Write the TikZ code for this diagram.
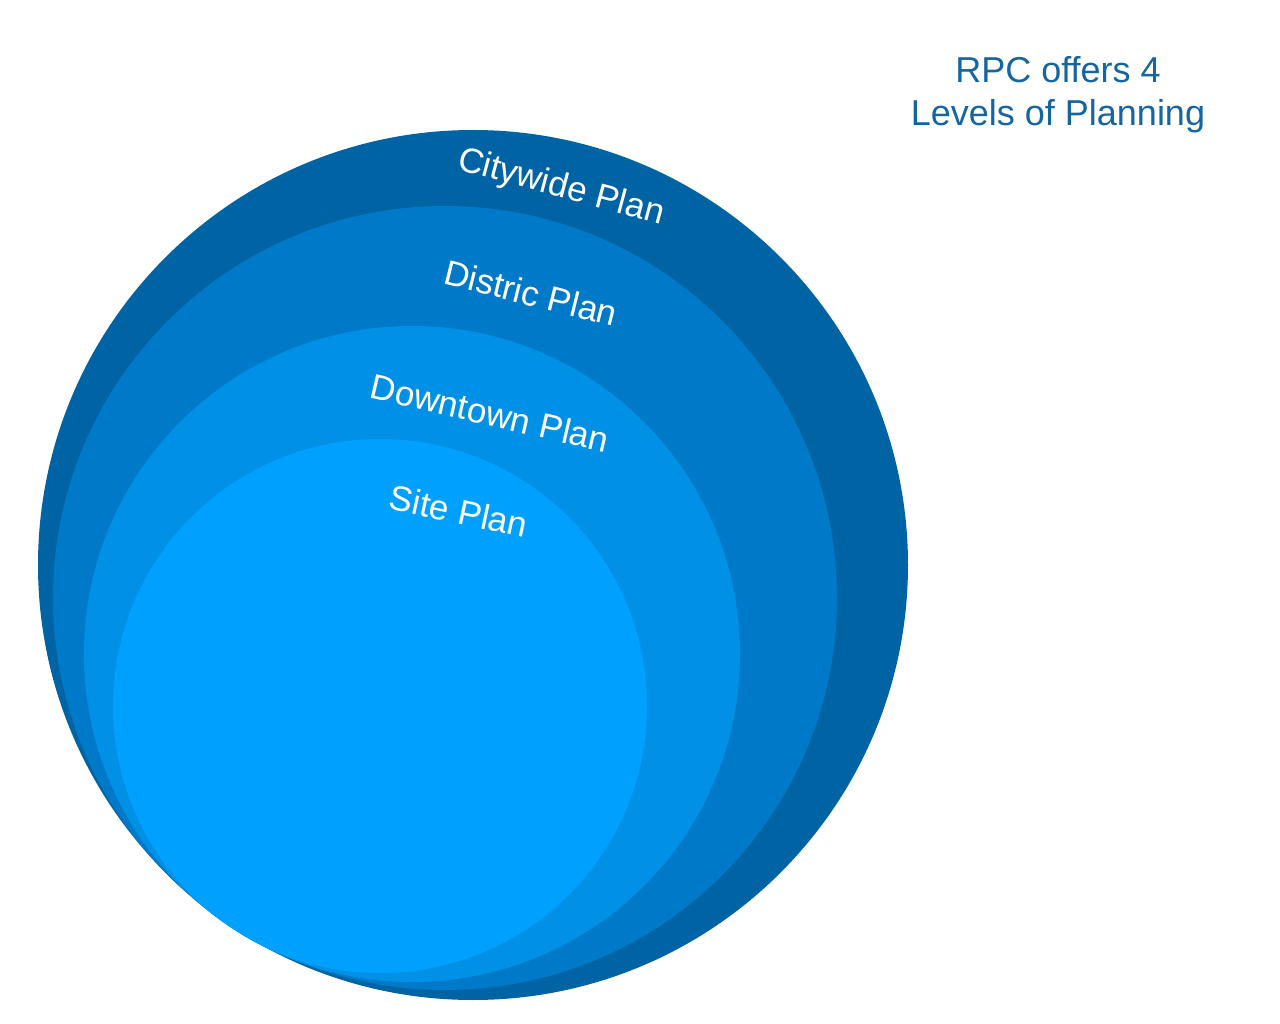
\documentclass[tikz,border=0pt]{standalone}
\usepackage{fontspec}
\setmainfont{Liberation Sans}
\definecolor{c1}{HTML}{0063A3}
\definecolor{c2}{HTML}{007AC8}
\definecolor{c3}{HTML}{0091E6}
\definecolor{c4}{HTML}{00A0FF}
\definecolor{tt}{HTML}{1565A0}
\begin{document}
\begin{tikzpicture}[x=1pt,y=-1pt,
  lab/.style={text=white,font=\fontsize{35}{38}\selectfont,inner sep=0pt}]
\useasboundingbox (0,0) rectangle (1280,1024);
\fill[c1] (473,565) circle (435);
\fill[c2] (445,598) circle (392);
\fill[c3] (412,654) circle (328);
\fill[c4] (380,706) circle (267);
\node[lab,rotate=-15] (l1) at (561,188) {Citywide Plan};
\node[lab,rotate=-14] (l2) at (531,293) {Distric Plan};
\node[lab,rotate=-13] (l3) at (490,413) {Downtown Plan};
\node[lab,rotate=-12] (l4) at (459,511) {Site Plan};
\node[text=tt,font=\fontsize{36}{43}\selectfont,align=center] (t) at (1058,95) {RPC offers 4\\Levels of Planning};
\end{tikzpicture}
\end{document}
